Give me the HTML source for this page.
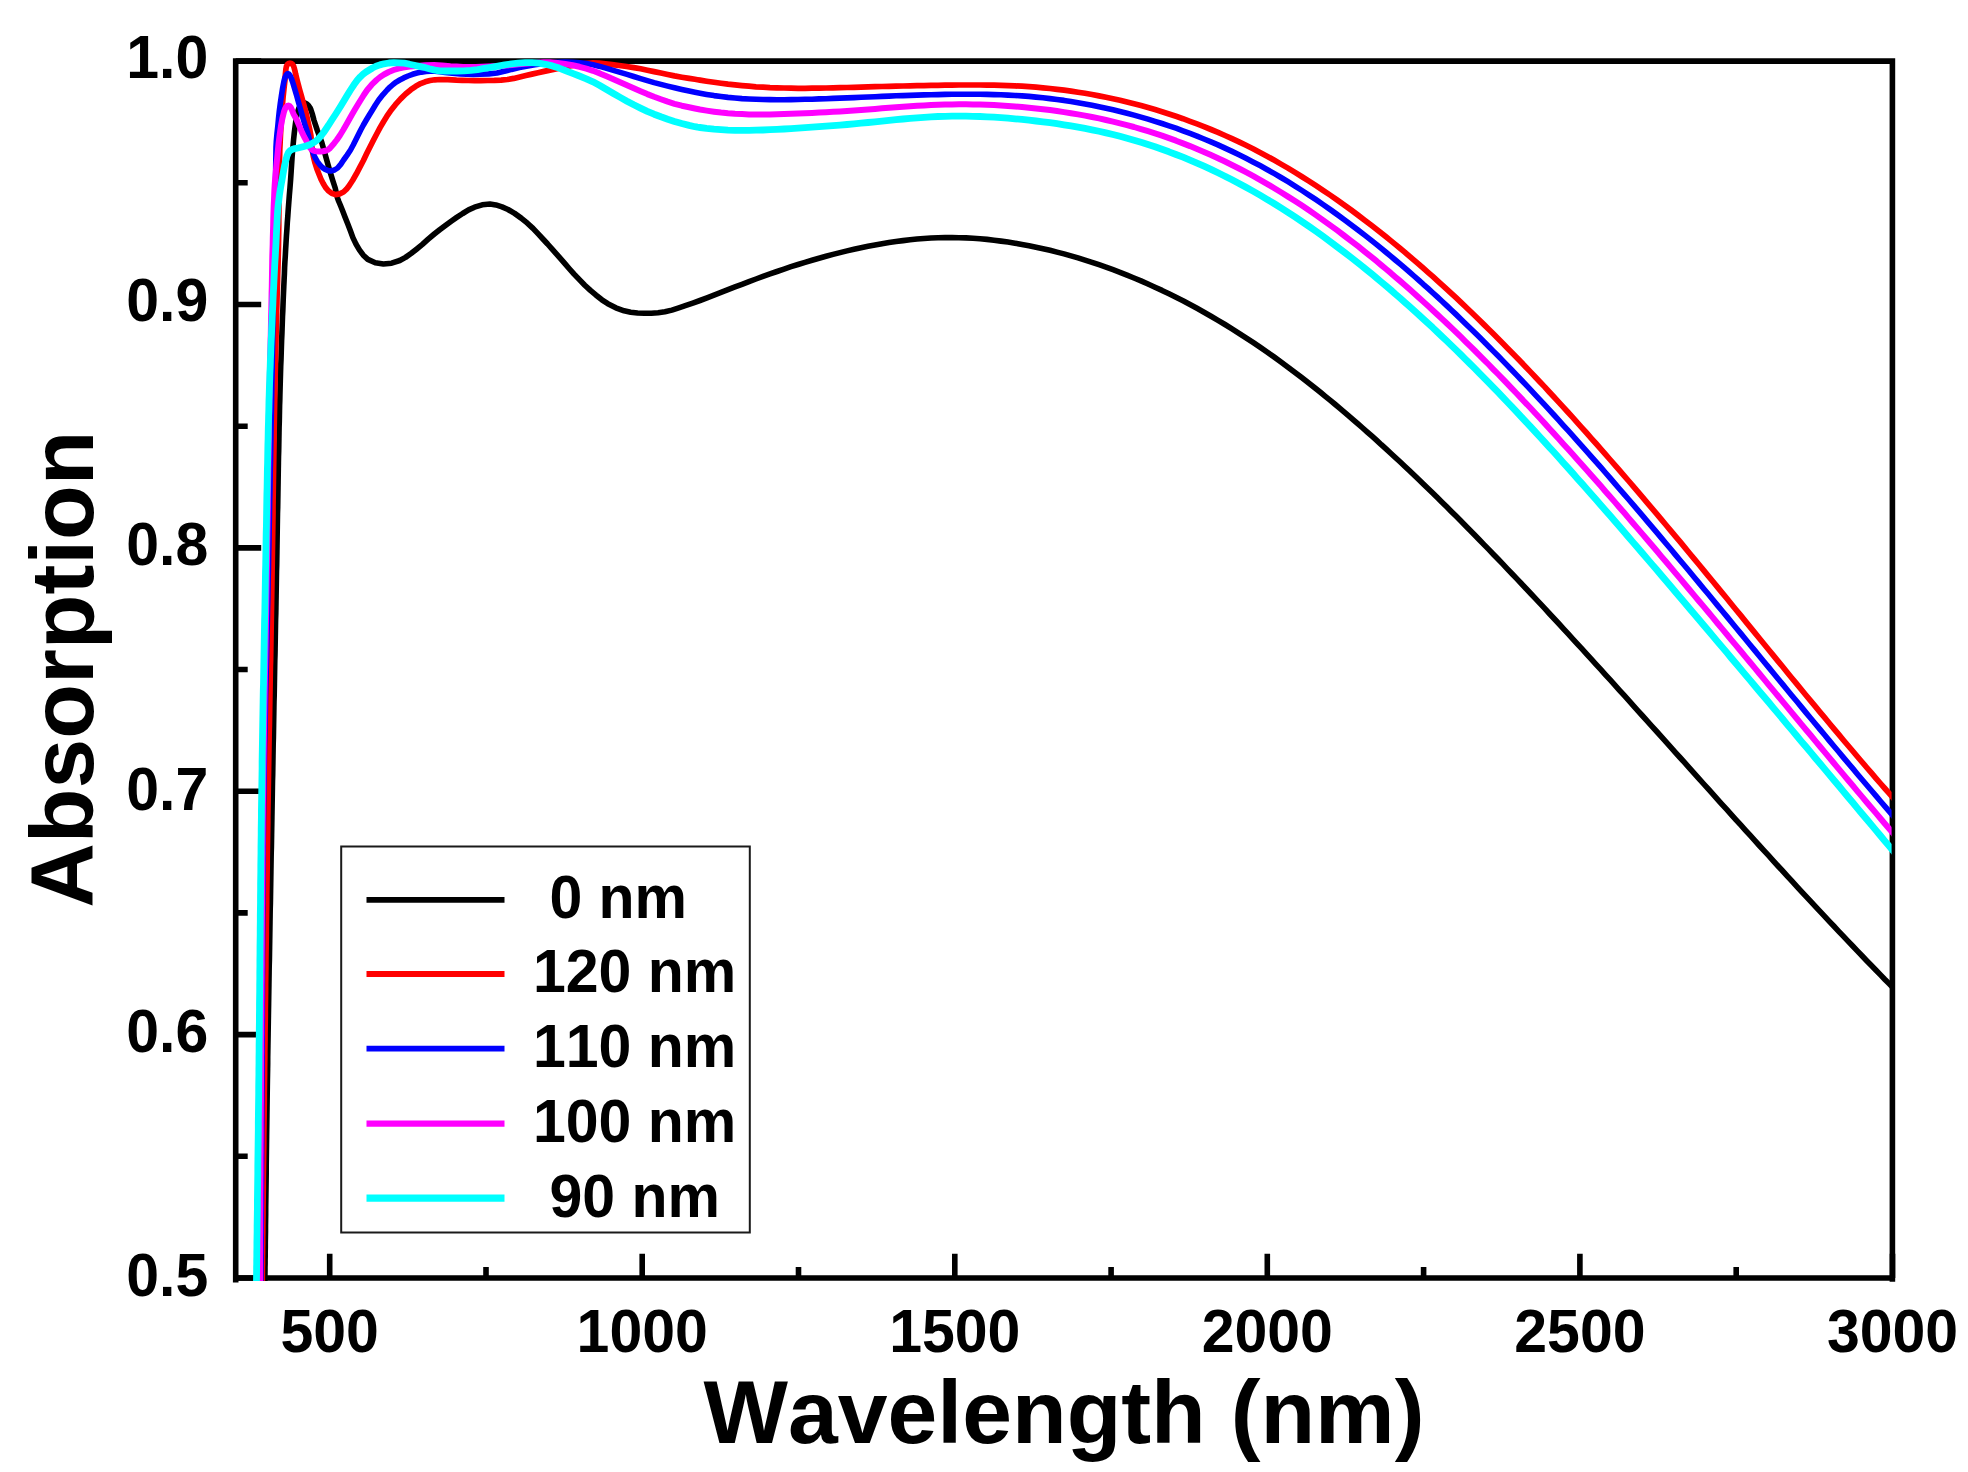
<!DOCTYPE html>
<html><head><meta charset="utf-8"><title>Absorption vs Wavelength</title>
<style>
html,body{margin:0;padding:0;background:#fff;}
body{width:1968px;height:1472px;overflow:hidden;}
svg{display:block;}
text{font-family:"Liberation Sans",Arial,Helvetica,sans-serif;font-weight:bold;fill:#000;font-kerning:none;}
.tk{font-size:59px;}
.lg{font-size:59px;}
.ti{font-size:89.5px;}
</style></head><body>
<svg width="1968" height="1472" viewBox="0 0 1968 1472">
<rect x="0" y="0" width="1968" height="1472" fill="#ffffff"/>
<defs><clipPath id="cp"><rect x="232.9" y="56.3" width="1658.7" height="1224.7"/></clipPath></defs>

<g stroke="#000" stroke-width="5.6" fill="none" stroke-linecap="butt">
<path d="M235.7,1282.5 V58.3 M232.9,61.1 H1895.2 M1892.4,58.3 V1281.8 M232.9,1278.0 H1895.2"/>
<path d="M329.7,1278.0 v-24.3 M642.2,1278.0 v-24.3 M954.8,1278.0 v-24.3 M1267.3,1278.0 v-24.3 M1579.9,1278.0 v-24.3 M1892.5,1278.0 v-24.3 M486.0,1278.0 v-11 M798.5,1278.0 v-11 M1111.1,1278.0 v-11 M1423.6,1278.0 v-11 M1736.2,1278.0 v-11 M235.7,1278.0 h25.5 M235.7,1156.3 h12 M235.7,1034.6 h25.5 M235.7,912.9 h12 M235.7,791.2 h25.5 M235.7,669.5 h12 M235.7,547.9 h25.5 M235.7,426.2 h12 M235.7,304.5 h25.5 M235.7,182.8 h12 M235.7,61.1 h25.5 "/>
</g>
<g fill="none" stroke-linejoin="round" stroke-linecap="butt" clip-path="url(#cp)">
<path stroke="#000000" stroke-width="5.6" d="M264.8,1284.0 264.9,1278.0 265.0,1270.0 265.0,1267.2 265.1,1264.0 265.1,1260.4 265.2,1256.4 265.2,1252.1 265.3,1247.5 265.3,1242.6 265.4,1237.3 265.5,1231.9 265.5,1226.1 265.6,1220.2 265.7,1214.0 265.7,1207.6 265.8,1201.0 265.9,1194.3 266.0,1187.5 266.1,1180.5 266.2,1173.4 266.2,1166.2 266.3,1159.0 266.4,1151.7 266.5,1144.4 266.6,1137.0 266.7,1129.7 266.8,1122.4 266.9,1115.1 267.0,1107.9 267.1,1100.8 267.2,1093.7 267.3,1086.8 267.4,1080.0 267.5,1074.5 267.6,1068.9 267.7,1063.2 267.7,1057.5 267.8,1051.7 267.9,1045.8 268.0,1040.0 268.1,1034.0 268.2,1028.0 268.3,1022.0 268.4,1015.9 268.5,1009.8 268.6,1003.7 268.7,997.5 268.8,991.3 268.9,985.0 269.0,978.8 269.1,972.5 269.2,966.2 269.4,959.9 269.5,953.5 269.6,947.2 269.7,940.9 269.8,934.5 269.9,928.2 270.0,921.8 270.1,915.5 270.2,909.2 270.4,902.9 270.5,896.6 270.6,890.3 270.7,884.0 270.8,877.8 270.9,871.5 271.0,865.4 271.1,859.2 271.2,853.1 271.4,847.0 271.5,840.9 271.6,834.9 271.7,829.0 271.8,823.1 271.9,817.2 272.0,811.4 272.1,805.7 272.2,800.0 272.3,793.6 272.4,787.2 272.5,780.9 272.7,774.6 272.8,768.3 272.9,762.1 273.0,755.9 273.1,749.8 273.2,743.7 273.4,737.6 273.5,731.5 273.6,725.5 273.7,719.4 273.8,713.5 273.9,707.5 274.0,701.5 274.2,695.6 274.3,689.7 274.4,683.8 274.5,677.9 274.6,672.0 274.7,666.1 274.8,660.3 275.0,654.4 275.1,648.6 275.2,642.7 275.3,636.9 275.4,631.0 275.5,625.2 275.6,619.3 275.8,613.5 275.9,607.6 276.0,601.8 276.1,595.9 276.2,590.0 276.3,583.8 276.4,577.5 276.5,571.2 276.7,564.8 276.8,558.4 276.9,552.0 277.0,545.6 277.1,539.1 277.2,532.7 277.3,526.2 277.4,519.7 277.5,513.3 277.7,506.9 277.8,500.5 277.9,494.1 278.0,487.7 278.1,481.4 278.2,475.1 278.3,468.9 278.4,462.7 278.5,456.6 278.7,450.6 278.8,444.6 278.9,438.7 279.0,432.9 279.1,427.2 279.3,421.5 279.4,416.0 279.5,410.6 279.6,405.3 279.8,400.1 279.9,395.0 280.1,387.6 280.3,380.4 280.5,373.4 280.7,366.5 281.0,359.7 281.2,353.1 281.4,346.7 281.6,340.4 281.9,334.2 282.1,328.2 282.3,322.3 282.5,316.5 282.8,310.9 283.0,305.4 283.2,300.0 283.5,293.0 283.8,286.3 284.1,280.0 284.4,273.8 284.6,267.9 284.9,261.9 285.3,256.0 285.6,250.0 286.0,243.3 286.4,236.4 286.9,229.5 287.3,222.7 287.8,216.3 288.2,210.3 288.6,205.0 289.3,195.7 290.0,187.5 290.6,179.8 291.1,172.2 291.6,164.6 292.1,156.9 292.8,148.2 293.6,139.6 294.3,132.9 295.1,126.4 296.0,119.5 297.3,113.0 298.7,108.6 300.5,105.2 302.4,103.5 304.5,102.8 306.6,103.7 308.5,105.5 309.9,107.5 311.0,110.0 312.5,114.7 313.9,120.0 315.5,124.9 317.2,130.0 319.5,136.3 321.8,142.5 323.2,147.4 324.5,152.0 325.6,156.0 326.7,160.0 328.1,164.9 329.6,170.0 331.1,175.1 332.6,180.0 333.9,184.0 335.2,188.0 336.3,192.9 337.4,197.7 338.8,201.5 340.5,205.5 342.7,211.0 345.1,217.3 347.7,223.8 350.3,230.6 352.9,237.6 356.0,244.1 359.4,249.9 363.3,255.2 367.8,259.4 375.3,262.8 383.4,264.0 391.6,263.2 399.8,260.5 405.5,257.4 411.0,253.5 416.5,249.2 422.4,244.4 428.2,239.2 434.3,234.0 439.7,229.7 445.4,225.4 451.2,221.2 456.7,217.4 462.7,213.5 468.6,209.9 474.5,207.2 482.2,204.8 490.0,204.0 495.9,204.9 502.0,206.9 508.0,209.5 514.6,213.4 521.2,218.1 527.4,223.2 533.0,228.4 538.2,233.9 543.4,239.5 547.6,244.0 551.7,248.6 555.9,253.3 559.9,257.8 564.7,263.3 569.3,268.7 574.1,274.1 579.4,279.7 584.8,285.2 590.4,290.4 596.1,295.2 601.9,299.8 607.8,303.7 615.8,307.8 624.1,310.8 630.7,312.2 637.6,313.0 644.5,313.3 651.3,313.3 658.1,312.8 664.9,311.8 671.9,310.1 678.8,307.9 685.3,305.7 692.8,303.1 700.0,300.5 707.0,297.8 714.0,295.1 721.0,292.4 728.0,289.6 735.0,286.9 742.0,284.3 749.0,281.6 756.0,279.0 763.0,276.4 770.0,273.9 777.0,271.5 784.0,269.1 791.0,266.7 798.0,264.5 805.0,262.3 812.0,260.2 819.0,258.2 826.0,256.3 833.0,254.4 840.0,252.6 847.0,250.9 854.0,249.3 861.0,247.8 868.0,246.3 875.0,245.0 882.0,243.7 889.0,242.6 896.0,241.5 903.0,240.6 910.0,239.7 917.0,239.0 924.0,238.5 931.0,238.0 938.0,237.7 945.0,237.6 952.0,237.5 959.0,237.7 966.0,237.9 973.0,238.3 980.0,238.8 987.0,239.4 994.0,240.2 1001.0,241.1 1008.0,242.1 1015.0,243.2 1022.0,244.4 1029.0,245.7 1036.0,247.2 1043.0,248.7 1050.0,250.3 1057.0,252.1 1064.0,253.9 1071.0,255.9 1078.0,257.9 1085.0,260.1 1092.0,262.3 1099.0,264.7 1106.0,267.1 1113.0,269.7 1120.0,272.3 1127.0,275.1 1134.0,278.0 1141.0,280.9 1148.0,284.0 1155.0,287.2 1162.0,290.4 1169.0,293.8 1176.0,297.3 1183.0,300.8 1190.0,304.5 1197.0,308.3 1204.0,312.2 1211.0,316.2 1218.0,320.3 1225.0,324.5 1232.0,328.8 1239.0,333.3 1246.0,337.8 1253.0,342.4 1260.0,347.1 1267.0,352.0 1274.0,356.9 1281.0,362.0 1288.0,367.2 1295.0,372.4 1302.0,377.8 1309.0,383.2 1316.0,388.8 1320.7,392.5 1325.3,396.3 1330.0,400.1 1334.7,404.0 1339.3,407.9 1344.0,411.8 1348.7,415.8 1353.3,419.8 1358.0,423.9 1362.7,428.0 1367.3,432.1 1372.0,436.2 1376.7,440.4 1381.3,444.7 1386.0,448.9 1390.7,453.2 1395.3,457.5 1400.0,461.8 1404.7,466.2 1409.3,470.6 1414.0,475.1 1418.7,479.5 1423.3,484.0 1428.0,488.5 1432.7,493.1 1437.3,497.6 1442.0,502.2 1446.7,506.8 1451.3,511.5 1456.0,516.1 1460.7,520.8 1465.3,525.5 1470.0,530.2 1474.7,535.0 1479.3,539.8 1484.0,544.6 1488.7,549.4 1493.3,554.2 1498.0,559.0 1502.7,563.9 1507.3,568.8 1512.0,573.7 1516.7,578.6 1521.3,583.5 1526.0,588.5 1530.7,593.5 1535.3,598.4 1540.0,603.4 1544.7,608.4 1549.3,613.5 1554.0,618.5 1558.7,623.5 1563.3,628.6 1568.0,633.7 1572.7,638.8 1577.3,643.9 1582.0,648.9 1586.7,654.1 1591.3,659.2 1596.0,664.3 1600.7,669.4 1605.3,674.6 1610.0,679.7 1614.7,684.9 1619.3,690.1 1624.0,695.2 1628.7,700.4 1633.3,705.6 1638.0,710.8 1642.7,716.0 1647.3,721.2 1652.0,726.4 1656.7,731.5 1661.3,736.7 1666.0,741.9 1670.7,747.1 1675.3,752.3 1680.0,757.5 1684.7,762.7 1689.3,767.9 1694.0,773.1 1698.7,778.3 1703.3,783.5 1708.0,788.7 1712.7,793.9 1717.3,799.1 1722.0,804.3 1726.7,809.4 1731.3,814.6 1736.0,819.8 1740.7,824.9 1745.3,830.1 1750.0,835.2 1754.7,840.4 1759.3,845.5 1764.0,850.6 1768.7,855.7 1773.3,860.9 1778.0,866.0 1782.7,871.0 1787.3,876.1 1792.0,881.2 1796.7,886.3 1801.3,891.3 1806.0,896.3 1810.7,901.4 1815.3,906.4 1820.0,911.4 1824.7,916.4 1829.3,921.4 1834.0,926.3 1838.7,931.3 1843.3,936.2 1848.0,941.1 1852.7,946.0 1857.3,950.9 1862.0,955.8 1866.7,960.7 1871.4,965.5 1876.0,970.3 1880.5,974.9 1884.9,979.5 1889.0,983.6 1893.1,987.8 1897.0,991.8"/>
<path stroke="#ff0000" stroke-width="5.7" d="M262.3,1284.0 262.3,1278.0 262.4,1270.0 262.4,1267.2 262.5,1264.0 262.5,1260.4 262.5,1256.4 262.6,1252.1 262.6,1247.5 262.7,1242.6 262.7,1237.3 262.8,1231.9 262.8,1226.1 262.9,1220.2 263.0,1214.0 263.0,1207.6 263.1,1201.0 263.2,1194.3 263.3,1187.5 263.3,1180.5 263.4,1173.4 263.5,1166.2 263.6,1159.0 263.7,1151.7 263.8,1144.4 263.8,1137.0 263.9,1129.7 264.0,1122.4 264.1,1115.1 264.2,1107.9 264.3,1100.8 264.3,1093.7 264.4,1086.8 264.5,1080.0 264.6,1074.5 264.6,1068.9 264.7,1063.2 264.8,1057.5 264.8,1051.7 264.9,1045.8 265.0,1040.0 265.0,1034.0 265.1,1028.0 265.2,1022.0 265.3,1015.9 265.3,1009.8 265.4,1003.7 265.5,997.5 265.6,991.3 265.6,985.0 265.7,978.8 265.8,972.5 265.9,966.2 265.9,959.9 266.0,953.5 266.1,947.2 266.2,940.9 266.3,934.5 266.3,928.2 266.4,921.8 266.5,915.5 266.6,909.2 266.7,902.9 266.7,896.6 266.8,890.3 266.9,884.0 267.0,877.8 267.1,871.5 267.2,865.4 267.2,859.2 267.3,853.1 267.4,847.0 267.5,840.9 267.6,834.9 267.7,829.0 267.8,823.1 267.8,817.2 267.9,811.4 268.0,805.7 268.1,800.0 268.2,793.6 268.3,787.2 268.4,780.9 268.5,774.6 268.6,768.3 268.7,762.1 268.8,755.9 268.9,749.8 269.0,743.7 269.1,737.6 269.2,731.5 269.4,725.5 269.5,719.4 269.6,713.5 269.7,707.5 269.8,701.5 269.9,695.6 270.0,689.7 270.1,683.8 270.2,677.9 270.3,672.0 270.4,666.1 270.6,660.3 270.7,654.4 270.8,648.6 270.9,642.7 271.0,636.9 271.1,631.0 271.2,625.2 271.3,619.3 271.4,613.5 271.5,607.6 271.6,601.8 271.7,595.9 271.8,590.0 271.9,583.8 272.0,577.5 272.1,571.2 272.2,564.8 272.3,558.4 272.4,552.0 272.5,545.6 272.6,539.1 272.7,532.7 272.8,526.2 272.9,519.7 273.0,513.3 273.0,506.9 273.1,500.5 273.2,494.1 273.3,487.7 273.4,481.4 273.5,475.1 273.6,468.9 273.7,462.7 273.8,456.6 273.9,450.6 274.0,444.6 274.1,438.7 274.1,432.9 274.2,427.2 274.3,421.5 274.4,416.0 274.5,410.6 274.6,405.3 274.7,400.1 274.8,395.0 274.9,387.6 275.1,380.4 275.2,373.4 275.4,366.5 275.5,359.7 275.7,353.1 275.8,346.7 276.0,340.4 276.1,334.2 276.3,328.2 276.4,322.3 276.6,316.5 276.7,310.9 276.9,305.4 277.0,300.0 277.2,293.1 277.4,286.7 277.6,280.8 277.7,275.0 277.9,269.2 278.1,263.2 278.2,256.9 278.4,250.0 278.5,244.5 278.6,238.5 278.7,232.2 278.8,225.5 278.8,218.6 278.9,211.6 279.0,204.6 279.0,197.6 279.1,190.7 279.2,184.1 279.3,177.7 279.3,171.8 279.4,166.3 279.5,161.3 279.6,157.0 279.8,149.3 280.1,143.3 280.4,136.5 280.7,130.5 281.2,123.7 281.6,116.5 282.1,109.4 282.6,102.8 283.1,97.0 284.1,87.8 285.0,80.0 285.4,74.0 285.9,69.0 286.4,66.5 287.3,64.6 288.6,63.6 290.0,63.2 291.4,63.6 292.7,64.6 293.6,66.1 294.2,68.0 294.9,70.7 295.6,74.0 297.5,81.7 299.7,90.0 301.3,95.6 302.8,101.0 304.3,106.5 305.8,112.0 307.1,117.7 308.4,123.5 309.7,129.4 310.9,135.5 311.5,142.7 312.2,150.0 313.4,156.6 315.0,163.0 316.9,168.9 319.1,174.5 321.0,179.2 323.2,183.5 325.5,187.4 328.3,190.8 331.7,193.3 335.5,194.6 339.6,193.9 343.5,192.0 346.5,189.2 349.3,185.5 352.7,180.2 356.4,173.8 359.9,167.2 363.4,160.5 366.7,153.6 370.1,146.8 373.4,140.2 376.8,133.7 380.2,127.4 383.5,121.7 386.9,116.2 390.4,111.1 395.4,104.7 400.6,98.9 405.6,94.0 410.8,89.7 415.7,86.3 420.6,83.6 425.2,81.8 430.0,80.5 434.8,79.8 440.0,79.5 447.8,79.7 456.5,80.2 462.2,80.4 468.3,80.5 474.6,80.6 480.9,80.6 487.6,80.5 494.4,80.4 501.1,80.1 507.4,79.5 513.8,78.4 519.8,76.9 525.8,75.5 531.9,74.1 538.1,72.7 544.1,71.4 552.3,69.6 560.4,67.9 568.5,66.2 576.7,64.7 584.8,63.5 593.0,62.8 599.2,63.1 605.5,63.8 612.0,64.6 619.2,65.5 626.5,66.5 633.8,67.6 640.6,68.8 647.4,70.2 654.1,71.6 660.9,73.0 667.7,74.5 674.5,75.9 681.8,77.2 689.1,78.4 694.9,79.3 697.5,79.7 700.0,80.1 706.6,81.2 714.0,82.3 721.0,83.3 728.0,84.2 735.0,84.9 742.0,85.6 749.0,86.2 756.0,86.8 763.0,87.2 770.0,87.6 777.0,87.8 784.0,88.0 791.0,88.2 798.0,88.3 805.0,88.3 812.0,88.2 819.0,88.1 826.0,88.0 833.0,87.9 840.0,87.7 847.0,87.5 854.0,87.3 861.0,87.1 868.0,86.9 875.0,86.7 882.0,86.5 889.0,86.3 896.0,86.2 903.0,86.0 910.0,85.9 917.0,85.7 924.0,85.6 931.0,85.4 938.0,85.3 945.0,85.2 952.0,85.1 959.0,85.0 966.0,85.0 973.0,85.0 980.0,85.0 987.0,85.1 994.0,85.2 1001.0,85.3 1008.0,85.6 1015.0,85.9 1022.0,86.2 1029.0,86.7 1036.0,87.2 1043.0,87.8 1050.0,88.5 1057.0,89.3 1064.0,90.2 1071.0,91.1 1078.0,92.2 1085.0,93.3 1092.0,94.5 1099.0,95.9 1106.0,97.3 1113.0,98.8 1120.0,100.3 1127.0,102.0 1134.0,103.8 1141.0,105.6 1148.0,107.6 1155.0,109.6 1162.0,111.7 1169.0,114.0 1176.0,116.3 1183.0,118.7 1190.0,121.3 1197.0,123.9 1204.0,126.6 1211.0,129.5 1218.0,132.4 1225.0,135.5 1232.0,138.7 1239.0,141.9 1246.0,145.3 1253.0,148.8 1260.0,152.5 1267.0,156.2 1274.0,160.1 1281.0,164.1 1288.0,168.1 1295.0,172.4 1302.0,176.7 1309.0,181.1 1316.0,185.6 1323.0,190.3 1330.0,195.0 1337.0,199.9 1344.0,204.8 1351.0,209.9 1358.0,215.1 1365.0,220.4 1372.0,225.7 1379.0,231.2 1386.0,236.8 1390.7,240.6 1395.3,244.4 1400.0,248.2 1404.7,252.1 1409.3,256.1 1414.0,260.1 1418.7,264.1 1423.3,268.2 1428.0,272.3 1432.7,276.4 1437.3,280.6 1442.0,284.8 1446.7,289.1 1451.3,293.4 1456.0,297.7 1460.7,302.1 1465.3,306.5 1470.0,311.0 1474.7,315.5 1479.3,320.0 1484.0,324.6 1488.7,329.2 1493.3,333.8 1498.0,338.5 1502.7,343.2 1507.3,347.9 1512.0,352.7 1516.7,357.5 1521.3,362.3 1526.0,367.2 1530.7,372.1 1535.3,377.0 1540.0,382.0 1544.7,386.9 1549.3,392.0 1554.0,397.0 1558.7,402.1 1563.3,407.2 1568.0,412.3 1572.7,417.4 1577.3,422.6 1582.0,427.8 1586.7,433.0 1591.3,438.3 1596.0,443.5 1600.7,448.8 1605.3,454.1 1610.0,459.5 1614.7,464.8 1619.3,470.2 1624.0,475.6 1628.7,481.0 1633.3,486.4 1638.0,491.9 1642.7,497.4 1647.3,502.9 1652.0,508.4 1656.7,513.9 1661.3,519.4 1666.0,525.0 1670.7,530.6 1675.3,536.1 1680.0,541.7 1684.7,547.3 1689.3,553.0 1694.0,558.6 1698.7,564.3 1703.3,569.9 1708.0,575.6 1712.7,581.3 1717.3,586.9 1722.0,592.6 1726.7,598.3 1731.3,604.0 1736.0,609.7 1740.7,615.4 1745.3,621.1 1750.0,626.9 1754.7,632.6 1759.3,638.3 1764.0,644.0 1768.7,649.7 1773.3,655.4 1778.0,661.1 1782.7,666.8 1787.3,672.5 1792.0,678.2 1796.7,683.8 1801.3,689.5 1806.0,695.2 1810.7,700.8 1815.3,706.4 1820.0,712.1 1824.7,717.7 1829.3,723.3 1834.0,728.9 1838.7,734.4 1843.3,740.0 1848.0,745.5 1852.7,751.0 1857.3,756.5 1862.0,762.0 1866.7,767.5 1871.4,772.9 1876.0,778.3 1880.5,783.5 1884.9,788.5 1889.0,793.2 1893.1,797.9 1897.0,802.4"/>
<path stroke="#0000ff" stroke-width="5.6" d="M260.9,1284.0 260.9,1278.0 261.0,1270.0 261.0,1267.2 261.0,1264.0 261.1,1260.4 261.1,1256.4 261.1,1252.1 261.1,1247.5 261.2,1242.6 261.2,1237.3 261.2,1231.9 261.2,1226.1 261.3,1220.2 261.3,1214.0 261.3,1207.6 261.4,1201.0 261.4,1194.3 261.4,1187.5 261.5,1180.5 261.5,1173.4 261.5,1166.2 261.6,1159.0 261.6,1151.7 261.7,1144.4 261.7,1137.0 261.7,1129.7 261.8,1122.4 261.8,1115.1 261.8,1107.9 261.9,1100.8 261.9,1093.7 262.0,1086.8 262.0,1080.0 262.0,1074.5 262.1,1068.9 262.1,1063.2 262.1,1057.5 262.1,1051.7 262.2,1045.8 262.2,1040.0 262.2,1034.0 262.2,1028.0 262.3,1022.0 262.3,1015.9 262.3,1009.8 262.3,1003.7 262.4,997.5 262.4,991.3 262.4,985.0 262.4,978.8 262.5,972.5 262.5,966.2 262.5,959.9 262.5,953.5 262.6,947.2 262.6,940.9 262.6,934.5 262.7,928.2 262.7,921.8 262.7,915.5 262.8,909.2 262.8,902.9 262.8,896.6 262.9,890.3 262.9,884.0 262.9,877.8 263.0,871.5 263.0,865.3 263.1,859.2 263.1,853.1 263.2,847.0 263.2,840.9 263.3,834.9 263.4,829.0 263.4,823.1 263.5,817.2 263.6,811.4 263.6,805.7 263.7,800.0 263.8,793.6 263.9,787.2 264.0,780.9 264.1,774.6 264.2,768.3 264.3,762.1 264.4,755.9 264.5,749.8 264.6,743.7 264.8,737.6 264.9,731.5 265.0,725.5 265.1,719.4 265.3,713.5 265.4,707.5 265.5,701.5 265.6,695.6 265.8,689.7 265.9,683.8 266.1,677.9 266.2,672.0 266.3,666.1 266.5,660.3 266.6,654.4 266.7,648.6 266.9,642.7 267.0,636.9 267.1,631.0 267.3,625.2 267.4,619.3 267.5,613.5 267.6,607.6 267.8,601.8 267.9,595.9 268.0,590.0 268.1,583.8 268.2,577.5 268.4,571.2 268.5,564.8 268.6,558.4 268.7,552.0 268.9,545.6 269.0,539.1 269.1,532.7 269.2,526.2 269.4,519.7 269.5,513.3 269.6,506.9 269.7,500.5 269.9,494.1 270.0,487.7 270.1,481.4 270.2,475.1 270.3,468.9 270.5,462.7 270.6,456.6 270.7,450.6 270.8,444.6 270.9,438.7 271.0,432.9 271.1,427.2 271.2,421.5 271.3,416.0 271.4,410.6 271.5,405.3 271.6,400.1 271.7,395.0 271.8,387.6 271.9,380.4 272.1,373.4 272.2,366.5 272.3,359.7 272.4,353.1 272.5,346.7 272.6,340.4 272.7,334.2 272.8,328.2 272.9,322.3 272.9,316.5 273.0,310.9 273.1,305.4 273.2,300.0 273.3,293.1 273.4,286.6 273.5,280.5 273.6,274.6 273.7,268.8 273.8,262.8 273.9,256.6 274.0,250.0 274.1,244.2 274.2,238.0 274.4,231.6 274.5,225.0 274.7,218.3 274.8,211.6 274.9,204.9 275.1,198.3 275.2,192.0 275.4,185.9 275.5,180.3 275.6,175.0 275.7,167.3 275.8,160.1 275.9,153.4 276.0,147.2 276.3,141.6 277.0,133.6 277.8,126.4 278.5,118.7 279.3,111.0 280.3,103.4 281.4,95.8 282.6,88.2 283.9,81.5 284.8,78.0 286.0,75.3 287.0,74.1 288.0,73.6 289.0,74.2 290.0,75.5 291.3,78.3 292.6,82.0 294.6,88.6 296.7,95.8 298.7,102.9 300.7,110.0 302.7,117.3 304.8,124.3 306.7,130.0 308.4,135.5 309.6,140.7 310.9,146.0 312.7,151.9 315.0,157.5 317.4,161.6 320.1,165.1 322.5,167.6 325.2,169.4 328.2,170.6 331.3,170.9 334.5,170.0 337.6,168.0 340.7,164.4 343.6,160.0 347.1,155.1 350.5,150.0 353.2,145.0 355.7,140.0 358.2,135.0 360.7,130.0 363.4,125.0 366.3,120.0 369.3,115.0 372.4,110.0 375.4,105.0 378.7,100.0 382.8,94.8 387.1,90.0 390.0,87.1 393.0,84.5 396.2,82.1 399.7,80.0 403.7,77.9 408.0,76.0 412.5,74.3 417.0,73.0 421.5,72.1 426.0,71.5 430.5,71.2 435.0,71.2 439.8,71.8 445.0,72.5 452.2,73.3 460.0,74.0 466.5,74.3 473.3,74.4 480.0,74.3 488.7,73.9 497.0,73.0 504.3,71.3 511.5,69.4 519.4,67.6 527.8,66.0 534.9,64.8 542.4,63.8 550.0,63.0 557.6,62.4 565.1,62.1 572.6,62.2 579.5,62.7 586.3,63.6 593.0,64.8 599.8,66.4 606.6,68.4 613.4,70.4 620.2,72.4 627.0,74.4 633.8,76.5 640.6,78.6 647.3,80.6 654.1,82.6 660.9,84.4 667.7,86.1 674.5,87.7 681.8,89.4 689.1,91.0 694.9,92.2 697.5,92.7 700.0,93.2 706.6,94.4 714.0,95.6 721.0,96.5 728.0,97.4 735.0,98.0 742.0,98.6 749.0,99.0 756.0,99.3 763.0,99.5 770.0,99.6 777.0,99.7 784.0,99.7 791.0,99.6 798.0,99.5 805.0,99.3 812.0,99.2 819.0,98.9 826.0,98.7 833.0,98.4 840.0,98.1 847.0,97.9 854.0,97.6 861.0,97.3 868.0,97.0 875.0,96.7 882.0,96.4 889.0,96.1 896.0,95.8 903.0,95.6 910.0,95.4 917.0,95.1 924.0,94.9 931.0,94.7 938.0,94.6 945.0,94.4 952.0,94.3 959.0,94.3 966.0,94.2 973.0,94.2 980.0,94.3 987.0,94.4 994.0,94.6 1001.0,94.8 1008.0,95.1 1015.0,95.5 1022.0,95.9 1029.0,96.4 1036.0,97.1 1043.0,97.8 1050.0,98.6 1057.0,99.5 1064.0,100.4 1071.0,101.5 1078.0,102.7 1085.0,103.9 1092.0,105.2 1099.0,106.7 1106.0,108.2 1113.0,109.8 1120.0,111.5 1127.0,113.3 1134.0,115.1 1141.0,117.1 1148.0,119.1 1155.0,121.3 1162.0,123.5 1169.0,125.8 1176.0,128.2 1183.0,130.8 1190.0,133.4 1197.0,136.1 1204.0,139.0 1211.0,141.9 1218.0,144.9 1225.0,148.1 1232.0,151.4 1239.0,154.8 1246.0,158.3 1253.0,161.9 1260.0,165.6 1267.0,169.5 1274.0,173.4 1281.0,177.5 1288.0,181.7 1295.0,186.1 1302.0,190.5 1309.0,195.1 1316.0,199.7 1323.0,204.5 1330.0,209.4 1337.0,214.4 1344.0,219.5 1351.0,224.7 1358.0,230.0 1365.0,235.4 1372.0,240.9 1376.7,244.6 1381.3,248.4 1386.0,252.2 1390.7,256.1 1395.3,260.0 1400.0,263.9 1404.7,267.9 1409.3,271.9 1414.0,276.0 1418.7,280.1 1423.3,284.3 1428.0,288.4 1432.7,292.7 1437.3,296.9 1442.0,301.2 1446.7,305.6 1451.3,310.0 1456.0,314.4 1460.7,318.9 1465.3,323.4 1470.0,327.9 1474.7,332.5 1479.3,337.1 1484.0,341.7 1488.7,346.4 1493.3,351.1 1498.0,355.8 1502.7,360.6 1507.3,365.4 1512.0,370.2 1516.7,375.1 1521.3,380.0 1526.0,384.9 1530.7,389.9 1535.3,394.8 1540.0,399.8 1544.7,404.9 1549.3,409.9 1554.0,415.0 1558.7,420.1 1563.3,425.3 1568.0,430.4 1572.7,435.6 1577.3,440.8 1582.0,446.1 1586.7,451.3 1591.3,456.6 1596.0,461.9 1600.7,467.2 1605.3,472.5 1610.0,477.9 1614.7,483.3 1619.3,488.7 1624.0,494.1 1628.7,499.5 1633.3,504.9 1638.0,510.4 1642.7,515.9 1647.3,521.4 1652.0,526.9 1656.7,532.4 1661.3,537.9 1666.0,543.5 1670.7,549.0 1675.3,554.6 1680.0,560.2 1684.7,565.8 1689.3,571.3 1694.0,577.0 1698.7,582.6 1703.3,588.2 1708.0,593.8 1712.7,599.5 1717.3,605.1 1722.0,610.7 1726.7,616.4 1731.3,622.1 1736.0,627.7 1740.7,633.4 1745.3,639.0 1750.0,644.7 1754.7,650.4 1759.3,656.0 1764.0,661.7 1768.7,667.4 1773.3,673.0 1778.0,678.7 1782.7,684.4 1787.3,690.0 1792.0,695.7 1796.7,701.3 1801.3,706.9 1806.0,712.6 1810.7,718.2 1815.3,723.8 1820.0,729.4 1824.7,735.0 1829.3,740.6 1834.0,746.2 1838.7,751.8 1843.3,757.4 1848.0,762.9 1852.7,768.4 1857.3,774.0 1862.0,779.5 1866.7,785.0 1871.4,790.5 1876.0,795.9 1880.5,801.2 1884.9,806.3 1889.0,811.1 1893.1,815.9 1897.0,820.4"/>
<path stroke="#ff00ff" stroke-width="6.0" d="M260.0,1284.0 260.0,1278.0 260.0,1270.0 260.0,1267.2 260.0,1264.0 260.0,1260.4 260.0,1256.4 260.1,1252.1 260.1,1247.5 260.1,1242.6 260.1,1237.3 260.2,1231.9 260.2,1226.1 260.2,1220.2 260.2,1214.0 260.3,1207.6 260.3,1201.0 260.3,1194.3 260.4,1187.5 260.4,1180.5 260.5,1173.4 260.5,1166.2 260.5,1159.0 260.6,1151.7 260.6,1144.4 260.7,1137.0 260.7,1129.7 260.7,1122.4 260.8,1115.1 260.8,1107.9 260.9,1100.8 260.9,1093.7 261.0,1086.8 261.0,1080.0 261.0,1074.5 261.1,1068.9 261.1,1063.2 261.1,1057.5 261.2,1051.7 261.2,1045.8 261.2,1040.0 261.3,1034.0 261.3,1028.0 261.3,1022.0 261.4,1015.9 261.4,1009.8 261.4,1003.7 261.5,997.5 261.5,991.3 261.5,985.0 261.6,978.8 261.6,972.5 261.7,966.2 261.7,959.9 261.7,953.5 261.8,947.2 261.8,940.9 261.8,934.5 261.9,928.2 261.9,921.8 262.0,915.5 262.0,909.2 262.1,902.9 262.1,896.6 262.2,890.3 262.2,884.0 262.3,877.8 262.3,871.5 262.4,865.3 262.4,859.2 262.5,853.1 262.5,847.0 262.6,840.9 262.6,834.9 262.7,829.0 262.7,823.1 262.8,817.2 262.9,811.4 262.9,805.7 263.0,800.0 263.1,793.6 263.2,787.2 263.2,780.9 263.3,774.6 263.4,768.3 263.5,762.1 263.6,755.9 263.7,749.8 263.8,743.7 263.9,737.6 264.0,731.5 264.1,725.5 264.2,719.4 264.3,713.5 264.4,707.5 264.5,701.5 264.6,695.6 264.7,689.7 264.8,683.8 264.9,677.9 265.0,672.0 265.2,666.1 265.3,660.3 265.4,654.4 265.5,648.6 265.6,642.7 265.7,636.9 265.8,631.0 265.9,625.2 266.0,619.3 266.1,613.5 266.2,607.6 266.3,601.8 266.4,595.9 266.5,590.0 266.6,583.8 266.7,577.5 266.8,571.2 266.9,564.8 267.0,558.4 267.1,552.0 267.2,545.6 267.3,539.1 267.4,532.7 267.5,526.2 267.6,519.7 267.7,513.3 267.8,506.9 267.8,500.5 267.9,494.1 268.0,487.7 268.1,481.4 268.2,475.1 268.3,468.9 268.4,462.7 268.5,456.6 268.6,450.6 268.7,444.6 268.8,438.7 268.9,432.9 269.0,427.2 269.0,421.5 269.1,416.0 269.2,410.6 269.3,405.3 269.4,400.1 269.5,395.0 269.6,387.6 269.8,380.4 269.9,373.4 270.1,366.5 270.2,359.7 270.3,353.1 270.5,346.7 270.6,340.4 270.8,334.2 270.9,328.2 271.0,322.3 271.1,316.5 271.3,310.9 271.4,305.4 271.5,300.0 271.6,293.0 271.8,286.5 271.9,280.3 272.0,274.3 272.1,268.4 272.2,262.4 272.3,256.4 272.5,250.0 272.7,244.1 272.8,237.8 273.0,231.3 273.2,224.7 273.3,218.1 273.5,211.7 273.7,205.6 274.0,199.8 274.2,194.6 274.4,190.0 274.8,183.2 275.3,177.5 275.8,172.0 276.5,164.4 277.3,156.9 278.0,149.3 278.8,141.6 279.8,134.0 280.9,126.4 282.3,118.8 283.9,112.1 285.0,109.0 286.3,106.8 287.4,105.9 288.5,105.5 289.7,106.2 290.8,107.5 292.2,110.6 293.6,114.1 295.2,117.0 296.8,120.0 298.9,125.0 300.9,130.0 302.5,133.4 304.0,136.5 305.1,138.5 306.2,140.5 307.5,143.5 309.0,146.5 310.8,148.7 313.0,150.3 315.4,151.1 318.0,151.5 320.5,151.6 323.0,151.3 325.6,150.8 328.0,149.8 330.0,148.1 331.8,146.0 334.2,143.2 336.7,140.0 340.0,135.2 343.2,130.0 346.1,125.0 348.9,120.0 351.7,115.0 354.6,110.0 357.6,105.0 360.7,100.0 363.8,95.0 367.2,90.0 371.7,84.7 376.5,80.0 380.2,77.0 384.0,74.5 388.7,72.0 393.6,70.0 398.2,68.6 403.0,67.5 409.7,66.6 417.0,66.0 425.4,65.3 434.0,65.0 442.1,65.5 450.4,66.3 456.6,66.6 463.1,66.9 470.0,67.0 475.6,67.0 481.5,66.8 487.7,66.6 493.9,66.3 500.0,66.0 506.1,65.5 512.3,65.0 518.4,64.3 524.4,63.8 530.0,63.3 536.9,62.8 543.4,62.3 550.0,62.3 557.5,62.9 565.1,63.9 572.6,65.3 579.5,66.8 586.3,68.7 593.0,70.8 599.8,73.4 606.6,76.3 613.4,79.3 620.2,82.3 627.0,85.3 633.8,88.3 640.6,91.2 647.3,94.1 654.1,96.8 660.9,99.3 667.7,101.7 674.5,103.8 681.8,105.7 689.1,107.3 694.9,108.5 697.5,109.0 700.0,109.5 706.6,110.6 714.0,111.7 721.0,112.6 728.0,113.3 735.0,113.8 742.0,114.1 749.0,114.4 756.0,114.5 763.0,114.5 770.0,114.4 777.0,114.3 784.0,114.1 791.0,113.8 798.0,113.6 805.0,113.3 812.0,113.0 819.0,112.6 826.0,112.2 833.0,111.8 840.0,111.4 847.0,111.0 854.0,110.5 861.0,110.0 868.0,109.4 875.0,108.9 882.0,108.3 889.0,107.8 896.0,107.3 903.0,106.7 910.0,106.2 917.0,105.8 924.0,105.4 931.0,105.0 938.0,104.7 945.0,104.5 952.0,104.4 959.0,104.3 966.0,104.3 973.0,104.4 980.0,104.6 987.0,104.8 994.0,105.1 1001.0,105.5 1008.0,105.9 1015.0,106.5 1022.0,107.0 1029.0,107.7 1036.0,108.4 1043.0,109.2 1050.0,110.1 1057.0,111.0 1064.0,112.1 1071.0,113.2 1078.0,114.4 1085.0,115.6 1092.0,117.0 1099.0,118.4 1106.0,120.0 1113.0,121.6 1120.0,123.3 1127.0,125.1 1134.0,127.0 1141.0,129.1 1148.0,131.2 1155.0,133.4 1162.0,135.7 1169.0,138.2 1176.0,140.7 1183.0,143.4 1190.0,146.1 1197.0,149.0 1204.0,151.9 1211.0,155.0 1218.0,158.2 1225.0,161.5 1232.0,165.0 1239.0,168.5 1246.0,172.2 1253.0,175.9 1260.0,179.8 1267.0,183.8 1274.0,188.0 1281.0,192.2 1288.0,196.6 1295.0,201.1 1302.0,205.6 1309.0,210.3 1316.0,215.1 1323.0,220.1 1330.0,225.1 1337.0,230.2 1344.0,235.5 1351.0,240.8 1358.0,246.2 1365.0,251.8 1372.0,257.4 1376.7,261.2 1381.3,265.1 1386.0,269.0 1390.7,272.9 1395.3,276.9 1400.0,280.9 1404.7,285.0 1409.3,289.1 1414.0,293.2 1418.7,297.4 1423.3,301.6 1428.0,305.9 1432.7,310.2 1437.3,314.5 1442.0,318.9 1446.7,323.3 1451.3,327.7 1456.0,332.2 1460.7,336.7 1465.3,341.3 1470.0,345.9 1474.7,350.5 1479.3,355.1 1484.0,359.8 1488.7,364.5 1493.3,369.3 1498.0,374.0 1502.7,378.9 1507.3,383.7 1512.0,388.6 1516.7,393.5 1521.3,398.4 1526.0,403.3 1530.7,408.3 1535.3,413.3 1540.0,418.3 1544.7,423.4 1549.3,428.5 1554.0,433.6 1558.7,438.7 1563.3,443.9 1568.0,449.0 1572.7,454.2 1577.3,459.4 1582.0,464.7 1586.7,469.9 1591.3,475.2 1596.0,480.5 1600.7,485.8 1605.3,491.2 1610.0,496.5 1614.7,501.9 1619.3,507.3 1624.0,512.6 1628.7,518.1 1633.3,523.5 1638.0,528.9 1642.7,534.4 1647.3,539.8 1652.0,545.3 1656.7,550.8 1661.3,556.3 1666.0,561.8 1670.7,567.4 1675.3,572.9 1680.0,578.4 1684.7,584.0 1689.3,589.5 1694.0,595.1 1698.7,600.7 1703.3,606.2 1708.0,611.8 1712.7,617.4 1717.3,623.0 1722.0,628.6 1726.7,634.2 1731.3,639.8 1736.0,645.4 1740.7,651.0 1745.3,656.7 1750.0,662.3 1754.7,667.9 1759.3,673.5 1764.0,679.1 1768.7,684.8 1773.3,690.4 1778.0,696.0 1782.7,701.6 1787.3,707.2 1792.0,712.9 1796.7,718.5 1801.3,724.1 1806.0,729.7 1810.7,735.3 1815.3,740.9 1820.0,746.5 1824.7,752.1 1829.3,757.7 1834.0,763.3 1838.7,768.9 1843.3,774.4 1848.0,780.0 1852.7,785.5 1857.3,791.1 1862.0,796.6 1866.7,802.2 1871.4,807.7 1876.0,813.2 1880.5,818.5 1884.9,823.7 1889.0,828.5 1893.1,833.3 1897.0,837.9"/>
<path stroke="#00ffff" stroke-width="6.8" d="M256.4,1284.0 256.5,1278.0 256.6,1270.0 256.6,1267.2 256.7,1264.0 256.7,1260.4 256.8,1256.4 256.8,1252.1 256.9,1247.5 256.9,1242.6 257.0,1237.3 257.1,1231.9 257.1,1226.1 257.2,1220.2 257.3,1214.0 257.4,1207.6 257.4,1201.0 257.5,1194.3 257.6,1187.5 257.7,1180.5 257.8,1173.4 257.8,1166.2 257.9,1159.0 258.0,1151.7 258.1,1144.4 258.2,1137.0 258.3,1129.7 258.3,1122.4 258.4,1115.1 258.5,1107.9 258.6,1100.8 258.7,1093.7 258.7,1086.8 258.8,1080.0 258.9,1074.5 258.9,1068.9 259.0,1063.2 259.0,1057.5 259.1,1051.7 259.1,1045.8 259.2,1040.0 259.3,1034.0 259.3,1028.0 259.4,1022.0 259.4,1015.9 259.5,1009.8 259.5,1003.7 259.6,997.5 259.7,991.3 259.7,985.0 259.8,978.8 259.8,972.5 259.9,966.2 259.9,959.9 260.0,953.5 260.0,947.2 260.1,940.9 260.2,934.5 260.2,928.2 260.3,921.8 260.3,915.5 260.4,909.2 260.5,902.9 260.5,896.6 260.6,890.3 260.6,884.0 260.7,877.8 260.8,871.5 260.8,865.4 260.9,859.2 261.0,853.1 261.0,847.0 261.1,840.9 261.2,834.9 261.2,829.0 261.3,823.1 261.4,817.2 261.4,811.4 261.5,805.7 261.6,800.0 261.7,793.6 261.8,787.2 261.9,780.9 262.0,774.6 262.1,768.3 262.1,762.1 262.2,755.9 262.3,749.8 262.4,743.7 262.5,737.6 262.6,731.5 262.7,725.5 262.8,719.4 262.9,713.5 263.0,707.5 263.1,701.5 263.2,695.6 263.3,689.7 263.5,683.8 263.6,677.9 263.7,672.0 263.8,666.1 263.9,660.3 264.0,654.4 264.1,648.6 264.2,642.7 264.3,636.9 264.4,631.0 264.5,625.2 264.6,619.3 264.8,613.5 264.9,607.6 265.0,601.8 265.1,595.9 265.2,590.0 265.3,583.8 265.4,577.5 265.5,571.2 265.7,564.8 265.8,558.4 265.9,552.0 266.0,545.6 266.1,539.1 266.2,532.7 266.4,526.2 266.5,519.7 266.6,513.3 266.7,506.9 266.8,500.5 266.9,494.1 267.1,487.7 267.2,481.4 267.3,475.1 267.4,468.9 267.6,462.7 267.7,456.6 267.8,450.6 267.9,444.6 268.1,438.7 268.2,432.9 268.3,427.2 268.5,421.5 268.6,416.0 268.8,410.6 268.9,405.3 269.0,400.1 269.2,395.0 269.4,387.6 269.7,380.4 269.9,373.4 270.2,366.5 270.4,359.7 270.7,353.1 270.9,346.7 271.2,340.4 271.5,334.2 271.7,328.2 272.0,322.3 272.2,316.5 272.5,310.9 272.8,305.4 273.0,300.0 273.3,293.0 273.7,286.3 274.0,280.0 274.3,273.8 274.6,267.9 274.9,261.9 275.3,256.0 275.6,250.0 276.0,243.3 276.3,236.4 276.6,229.4 277.0,222.7 277.3,216.3 277.7,210.3 278.2,205.0 279.4,195.3 280.6,187.5 281.3,183.6 282.0,180.0 282.8,175.2 283.7,170.2 284.7,165.0 285.9,160.0 287.0,155.8 288.5,152.3 290.1,150.7 292.0,149.5 294.9,148.6 298.0,148.0 301.0,147.3 304.0,146.5 306.6,145.8 309.0,145.0 311.0,144.1 313.0,143.0 315.1,141.6 317.2,140.0 319.4,137.8 321.5,135.3 323.4,132.8 325.3,130.0 328.5,125.2 331.8,120.0 335.1,115.0 338.3,110.0 341.4,105.0 344.4,100.0 347.4,95.0 350.5,90.0 353.9,84.8 357.4,80.0 360.2,76.9 363.0,74.3 366.0,72.0 369.2,70.0 372.5,68.0 376.0,66.3 379.9,64.9 384.0,63.8 388.9,63.0 394.0,62.7 399.1,62.8 404.2,63.2 409.3,64.2 414.3,65.3 419.2,66.3 424.1,67.3 429.1,68.7 433.9,69.9 436.9,70.5 440.0,70.8 444.8,71.0 450.4,71.0 456.7,71.0 463.8,70.8 470.8,70.4 477.6,69.6 484.3,68.4 491.1,67.3 497.9,66.1 504.7,64.9 511.5,63.9 518.3,63.1 525.1,62.6 531.9,62.6 538.7,63.2 545.5,64.3 552.3,65.9 559.1,68.1 565.9,70.7 572.6,73.4 579.4,76.0 586.3,78.8 593.0,81.8 599.8,85.5 606.6,89.5 613.4,93.5 620.2,97.4 627.0,101.2 633.8,104.8 640.5,108.1 647.3,111.3 654.1,114.2 660.9,116.8 667.7,119.2 674.5,121.4 681.8,123.5 689.1,125.4 694.9,126.7 697.5,127.2 700.0,127.5 706.6,128.4 714.0,129.2 721.0,129.7 728.0,130.1 735.0,130.3 742.0,130.4 749.0,130.4 756.0,130.2 763.0,130.0 770.0,129.7 777.0,129.4 784.0,129.0 791.0,128.6 798.0,128.1 805.0,127.7 812.0,127.2 819.0,126.7 826.0,126.2 833.0,125.6 840.0,125.1 847.0,124.5 854.0,123.8 861.0,123.2 868.0,122.5 875.0,121.8 882.0,121.1 889.0,120.4 896.0,119.7 903.0,119.0 910.0,118.4 917.0,117.8 924.0,117.3 931.0,116.9 938.0,116.5 945.0,116.3 952.0,116.2 959.0,116.1 966.0,116.1 973.0,116.3 980.0,116.5 987.0,116.8 994.0,117.2 1001.0,117.6 1008.0,118.2 1015.0,118.8 1022.0,119.4 1029.0,120.2 1036.0,121.0 1043.0,121.8 1050.0,122.7 1057.0,123.7 1064.0,124.8 1071.0,125.9 1078.0,127.1 1085.0,128.4 1092.0,129.8 1099.0,131.3 1106.0,132.9 1113.0,134.5 1120.0,136.3 1127.0,138.2 1134.0,140.2 1141.0,142.3 1148.0,144.5 1155.0,146.8 1162.0,149.3 1169.0,151.8 1176.0,154.5 1183.0,157.2 1190.0,160.1 1197.0,163.1 1204.0,166.2 1211.0,169.4 1218.0,172.8 1225.0,176.2 1232.0,179.8 1239.0,183.4 1246.0,187.2 1253.0,191.1 1260.0,195.1 1267.0,199.3 1274.0,203.5 1281.0,207.9 1288.0,212.4 1295.0,216.9 1302.0,221.6 1309.0,226.4 1316.0,231.3 1323.0,236.3 1330.0,241.4 1337.0,246.7 1344.0,252.0 1351.0,257.4 1358.0,262.9 1362.7,266.6 1367.3,270.4 1372.0,274.2 1376.7,278.1 1381.3,282.0 1386.0,285.9 1390.7,289.9 1395.3,294.0 1400.0,298.0 1404.7,302.2 1409.3,306.3 1414.0,310.5 1418.7,314.7 1423.3,319.0 1428.0,323.3 1432.7,327.6 1437.3,332.0 1442.0,336.4 1446.7,340.9 1451.3,345.4 1456.0,349.9 1460.7,354.5 1465.3,359.1 1470.0,363.7 1474.7,368.4 1479.3,373.1 1484.0,377.8 1488.7,382.6 1493.3,387.4 1498.0,392.2 1502.7,397.1 1507.3,402.0 1512.0,406.9 1516.7,411.9 1521.3,416.8 1526.0,421.8 1530.7,426.9 1535.3,431.9 1540.0,437.0 1544.7,442.1 1549.3,447.2 1554.0,452.3 1558.7,457.5 1563.3,462.7 1568.0,467.9 1572.7,473.1 1577.3,478.4 1582.0,483.6 1586.7,488.9 1591.3,494.2 1596.0,499.5 1600.7,504.9 1605.3,510.2 1610.0,515.6 1614.7,521.0 1619.3,526.3 1624.0,531.7 1628.7,537.2 1633.3,542.6 1638.0,548.0 1642.7,553.5 1647.3,558.9 1652.0,564.4 1656.7,569.8 1661.3,575.3 1666.0,580.8 1670.7,586.3 1675.3,591.8 1680.0,597.3 1684.7,602.8 1689.3,608.3 1694.0,613.8 1698.7,619.3 1703.3,624.8 1708.0,630.3 1712.7,635.9 1717.3,641.4 1722.0,646.9 1726.7,652.4 1731.3,658.0 1736.0,663.5 1740.7,669.1 1745.3,674.6 1750.0,680.1 1754.7,685.7 1759.3,691.2 1764.0,696.8 1768.7,702.3 1773.3,707.9 1778.0,713.4 1782.7,719.0 1787.3,724.6 1792.0,730.1 1796.7,735.7 1801.3,741.3 1806.0,746.8 1810.7,752.4 1815.3,758.0 1820.0,763.5 1824.7,769.1 1829.3,774.7 1834.0,780.2 1838.7,785.8 1843.3,791.4 1848.0,797.0 1852.7,802.5 1857.3,808.1 1862.0,813.7 1866.7,819.3 1871.4,824.9 1876.0,830.4 1880.5,835.8 1884.9,841.1 1889.0,845.9 1893.1,850.9 1897.0,855.5"/>
</g>
<text class="tk" transform="translate(329.7,1351.7) scale(1,1.03)" text-anchor="middle">500</text>
<text class="tk" transform="translate(642.2,1351.7) scale(1,1.03)" text-anchor="middle">1000</text>
<text class="tk" transform="translate(954.8,1351.7) scale(1,1.03)" text-anchor="middle">1500</text>
<text class="tk" transform="translate(1267.3,1351.7) scale(1,1.03)" text-anchor="middle">2000</text>
<text class="tk" transform="translate(1579.9,1351.7) scale(1,1.03)" text-anchor="middle">2500</text>
<text class="tk" transform="translate(1892.5,1351.7) scale(1,1.03)" text-anchor="middle">3000</text>
<text class="tk" transform="translate(208.3,1296.1) scale(1,1.03)" text-anchor="end">0.5</text>
<text class="tk" transform="translate(208.3,1052.0) scale(1,1.03)" text-anchor="end">0.6</text>
<text class="tk" transform="translate(208.3,809.6) scale(1,1.03)" text-anchor="end">0.7</text>
<text class="tk" transform="translate(208.3,564.7) scale(1,1.03)" text-anchor="end">0.8</text>
<text class="tk" transform="translate(208.3,321.2) scale(1,1.03)" text-anchor="end">0.9</text>
<text class="tk" transform="translate(208.3,77.7) scale(1,1.03)" text-anchor="end">1.0</text>
<text class="ti" transform="translate(1064.0,1443.2)" text-anchor="middle">Wavelength (nm)</text>
<text class="ti" transform="translate(93.0,669.2) rotate(-90)" text-anchor="middle">Absorption</text>
<rect x="341.2" y="846.5" width="408.6" height="386" fill="#fff" stroke="#1a1a1a" stroke-width="2"/>
<line x1="366.5" y1="899.8" x2="504.5" y2="899.8" stroke="#000000" stroke-width="5.8"/>
<text class="lg" transform="translate(549.4,917.5) scale(1,1.03)" text-anchor="start">0 nm</text>
<line x1="366.5" y1="974.0" x2="504.5" y2="974.0" stroke="#ff0000" stroke-width="5.8"/>
<text class="lg" transform="translate(533.0,992.3) scale(1,1.03)" text-anchor="start">120 nm</text>
<line x1="366.5" y1="1048.6" x2="504.5" y2="1048.6" stroke="#0000ff" stroke-width="5.8"/>
<text class="lg" transform="translate(533.0,1067.3) scale(1,1.03)" text-anchor="start">110 nm</text>
<line x1="366.5" y1="1123.6" x2="504.5" y2="1123.6" stroke="#ff00ff" stroke-width="6.1"/>
<text class="lg" transform="translate(533.0,1142.3) scale(1,1.03)" text-anchor="start">100 nm</text>
<line x1="366.5" y1="1198.2" x2="504.5" y2="1198.2" stroke="#00ffff" stroke-width="7.2"/>
<text class="lg" transform="translate(549.4,1217.3) scale(1,1.03)" text-anchor="start">90 nm</text>
</svg></body></html>
